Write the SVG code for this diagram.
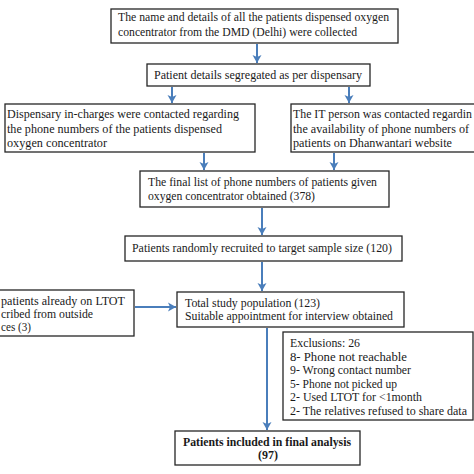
<svg xmlns="http://www.w3.org/2000/svg" width="474" height="474" viewBox="0 0 474 474">
<style>
.box{fill:#fff;stroke:#262626;stroke-width:1.3}
text{font-family:'Liberation Serif','DejaVu Serif',serif;font-size:12px;fill:#1a1a1a}
.b{font-weight:bold}
.arr{stroke:#4a7ebb;stroke-width:2;fill:none}
</style>
<defs>
<marker id="ah" markerUnits="userSpaceOnUse" markerWidth="10" markerHeight="10" refX="9" refY="5" orient="auto">
<path d="M1,0.5 L9,5 L1,9.5 L3,5 z" fill="#4a7ebb"/>
</marker>
</defs>
<rect width="474" height="474" fill="#fff"/>
<g id="connectors">
<line class="arr" x1="257" y1="44" x2="257" y2="63" marker-end="url(#ah)"/>
<line class="arr" x1="172" y1="87" x2="172" y2="103" marker-end="url(#ah)"/>
<line class="arr" x1="349" y1="87" x2="349" y2="103" marker-end="url(#ah)"/>
<line class="arr" x1="204" y1="153" x2="204" y2="170" marker-end="url(#ah)"/>
<line class="arr" x1="334" y1="153" x2="334" y2="170" marker-end="url(#ah)"/>
<line class="arr" x1="262" y1="208" x2="262" y2="235" marker-end="url(#ah)"/>
<line class="arr" x1="262" y1="262" x2="262" y2="291" marker-end="url(#ah)"/>
<line class="arr" x1="135" y1="307" x2="176" y2="307" marker-end="url(#ah)"/>
<line class="arr" x1="267" y1="328" x2="267" y2="430" marker-end="url(#ah)"/>
</g>
<g id="n1"><rect class="box" x="111" y="9" width="287" height="34"/>
<text x="118" y="21" textLength="271" lengthAdjust="spacingAndGlyphs">The name and details of all the patients dispensed oxygen</text>
<text x="118" y="36" textLength="239" lengthAdjust="spacingAndGlyphs">concentrator from the DMD (Delhi) were collected</text></g>
<g id="n2"><rect class="box" x="147" y="64" width="223" height="22"/>
<text x="154" y="79" textLength="208" lengthAdjust="spacingAndGlyphs">Patient details segregated as per dispensary</text></g>
<g id="n3"><rect class="box" x="5" y="104" width="250" height="48"/>
<text x="7" y="118" textLength="232" lengthAdjust="spacingAndGlyphs">Dispensary in-charges were contacted regarding</text>
<text x="7" y="133" textLength="215" lengthAdjust="spacingAndGlyphs">the phone numbers of the patients dispensed</text>
<text x="7" y="147" textLength="100" lengthAdjust="spacingAndGlyphs">oxygen concentrator</text></g>
<g id="n4"><rect class="box" x="291" y="104" width="190" height="48"/>
<text x="293" y="118" textLength="179" lengthAdjust="spacingAndGlyphs">The IT person was contacted regardin</text>
<text x="293" y="133" textLength="176" lengthAdjust="spacingAndGlyphs">the availability  of phone numbers of</text>
<text x="293" y="147" textLength="159" lengthAdjust="spacingAndGlyphs">patients on Dhanwantari website</text></g>
<g id="n5"><rect class="box" x="140" y="171" width="249" height="36"/>
<text x="148" y="186" textLength="229" lengthAdjust="spacingAndGlyphs">The final list of phone numbers of patients given</text>
<text x="148" y="200" textLength="167" lengthAdjust="spacingAndGlyphs">oxygen concentrator obtained (378)</text></g>
<g id="n6"><rect class="box" x="125" y="236" width="277" height="25"/>
<text x="132" y="252" textLength="260" lengthAdjust="spacingAndGlyphs">Patients randomly recruited to target sample size (120)</text></g>
<g id="n7"><rect class="box" x="-5" y="290" width="139" height="46"/>
<text x="1" y="305" textLength="124" lengthAdjust="spacingAndGlyphs">patients already on LTOT</text>
<text x="1" y="318" textLength="92" lengthAdjust="spacingAndGlyphs">cribed from outside</text>
<text x="1" y="331" textLength="30" lengthAdjust="spacingAndGlyphs">ces (3)</text></g>
<g id="n8"><rect class="box" x="177" y="292" width="227" height="35"/>
<text x="185" y="307" textLength="135" lengthAdjust="spacingAndGlyphs">Total study population (123)</text>
<text x="185" y="320" textLength="208" lengthAdjust="spacingAndGlyphs">Suitable appointment for interview obtained</text></g>
<g id="n9"><rect class="box" x="283" y="332" width="190" height="88"/>
<text x="290" y="347" textLength="70" lengthAdjust="spacingAndGlyphs">Exclusions:  26</text>
<text x="290" y="361" textLength="117" lengthAdjust="spacingAndGlyphs">8- Phone not reachable</text>
<text x="290" y="374" textLength="121" lengthAdjust="spacingAndGlyphs">9- Wrong contact number</text>
<text x="290" y="388" textLength="107" lengthAdjust="spacingAndGlyphs">5- Phone not picked up</text>
<text x="290" y="401" textLength="132" lengthAdjust="spacingAndGlyphs">2- Used LTOT for &lt;1month</text>
<text x="290" y="415" textLength="177" lengthAdjust="spacingAndGlyphs">2- The relatives refused to share data</text></g>
<g id="n10"><rect class="box" x="175" y="431" width="185" height="34"/>
<text class="b" x="267" y="446" text-anchor="middle" textLength="168" lengthAdjust="spacingAndGlyphs">Patients included in final analysis</text>
<text class="b" x="268" y="459" text-anchor="middle">(97)</text></g>
</svg>
